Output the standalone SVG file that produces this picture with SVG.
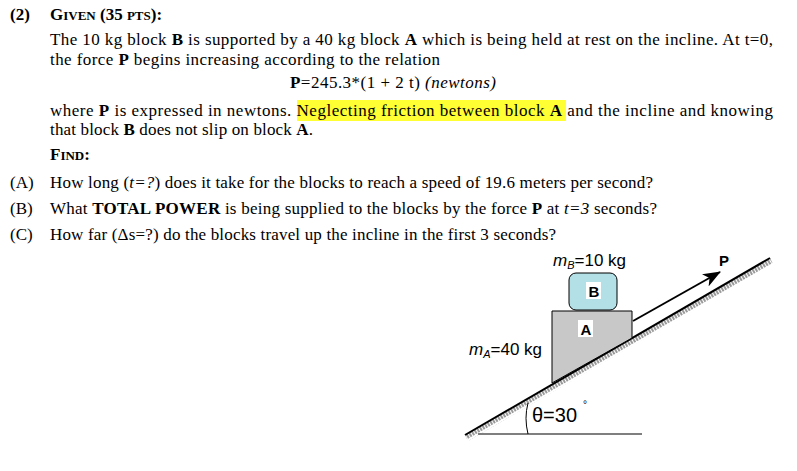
<svg xmlns="http://www.w3.org/2000/svg" width="797" height="471" viewBox="0 0 797 471">
<style>
.t{font-family:"Liberation Serif",serif;font-size:17px;fill:#000}
.s{font-family:"Liberation Sans",sans-serif;font-size:17px;fill:#000}
</style>
<defs>
<pattern id="h" width="3" height="8" patternUnits="userSpaceOnUse" patternTransform="rotate(-30)">
<line x1="1" y1="0" x2="1" y2="6" stroke="#000" stroke-width="0.8"/>
</pattern>
<marker id="ar" markerWidth="18" markerHeight="14" refX="17" refY="7" orient="auto" markerUnits="userSpaceOnUse" viewBox="0 0 18 14">
<path d="M0,0 L18,7 L0,14 L5,7 Z" fill="#000"/>
</marker>
</defs>
<rect width="797" height="471" fill="#fff"/>
<g id="text">
<text class="t" x="10" y="20" font-weight="bold">(2)</text>
<text class="t" x="50" y="20" font-weight="bold">G<tspan style="font-size:13px">IVEN</tspan> (35 <tspan style="font-size:13px">PTS</tspan>):</text>
<text class="t" x="50" y="45" textLength="723" lengthAdjust="spacing">The 10 kg block <tspan font-weight="bold">B</tspan> is supported by a 40 kg block <tspan font-weight="bold">A</tspan> which is being held at rest on the incline.  At t=0,</text>
<text class="t" x="50" y="65" textLength="390" lengthAdjust="spacing">the force <tspan font-weight="bold">P</tspan> begins increasing according to the relation</text>
<text class="t" x="290" y="88" textLength="206" lengthAdjust="spacing"><tspan font-weight="bold">P</tspan>=245.3*(1 + 2 t)   <tspan font-style="italic">(newtons)</tspan></text>
<rect x="297" y="100" width="269" height="21" fill="#ffff33"/>
<text class="t" x="50" y="116" textLength="723" lengthAdjust="spacing">where <tspan font-weight="bold">P</tspan> is expressed in newtons.   Neglecting friction between block <tspan font-weight="bold">A</tspan> and the incline and knowing</text>
<text class="t" x="50" y="135" textLength="263" lengthAdjust="spacing">that block <tspan font-weight="bold">B</tspan> does not slip on block <tspan font-weight="bold">A</tspan>.</text>
<text class="t" x="50" y="160" font-weight="bold">F<tspan style="font-size:13px">IND</tspan>:</text>
<text class="t" x="10" y="188">(A)</text>
<text class="t" x="50" y="188" textLength="603" lengthAdjust="spacing">How long (<tspan font-style="italic">t=?</tspan>) does it take for the blocks to reach a speed of 19.6 meters per second?</text>
<text class="t" x="10" y="214">(B)</text>
<text class="t" x="50" y="214" textLength="607" lengthAdjust="spacing">What <tspan font-weight="bold">TOTAL POWER</tspan> is being supplied to the blocks by the force <tspan font-weight="bold">P</tspan> at <tspan font-style="italic">t=3</tspan> seconds?</text>
<text class="t" x="10" y="240">(C)</text>
<text class="t" x="50" y="240" textLength="506" lengthAdjust="spacing">How far (Δs=?) do the blocks travel up the incline in the first 3 seconds?</text>
</g>
<g id="incline">
<polygon points="465,435 770,258 773,264 468,441" fill="url(#h)"/>
<line x1="465" y1="435" x2="770" y2="258" stroke="#000" stroke-width="2"/>
<line x1="478" y1="434" x2="642" y2="434" stroke="#000" stroke-width="1.2"/>
<path d="M528,403 Q524,418 528,434" fill="none" stroke="#000" stroke-width="1"/>
<text class="s" x="532" y="422" style="font-size:20px">θ=30</text>
<text class="s" x="583" y="408" style="font-size:10px">°</text>
</g>
<g id="blockA">
<polygon points="552,311 632,311 632,338 552,383" fill="#c8c8c8" stroke="#000" stroke-width="1"/>
<rect x="578" y="320" width="15" height="17" fill="#fff"/>
<text class="s" x="586" y="335" font-weight="bold" style="font-size:15px" text-anchor="middle">A</text>
<text class="s" x="469" y="355"><tspan font-style="italic">m<tspan style="font-size:11px" dy="3">A</tspan></tspan><tspan dy="-3">=40 kg</tspan></text>
</g>
<g id="blockB">
<rect x="569" y="273" width="48" height="37" rx="7" fill="#b3e0e6" stroke="#000" stroke-width="1"/>
<rect x="586" y="282" width="15" height="17" fill="#fff"/>
<text class="s" x="594" y="297" font-weight="bold" style="font-size:15px" text-anchor="middle">B</text>
<text class="s" x="553" y="266"><tspan font-style="italic">m<tspan style="font-size:11px" dy="3">B</tspan></tspan><tspan dy="-3">=10 kg</tspan></text>
</g>
<g id="connectors">
<line x1="633" y1="321" x2="720" y2="272" stroke="#000" stroke-width="2" marker-end="url(#ar)"/>
<text class="s" x="719" y="266" font-weight="bold" style="font-size:15px">P</text>
</g>
</svg>
